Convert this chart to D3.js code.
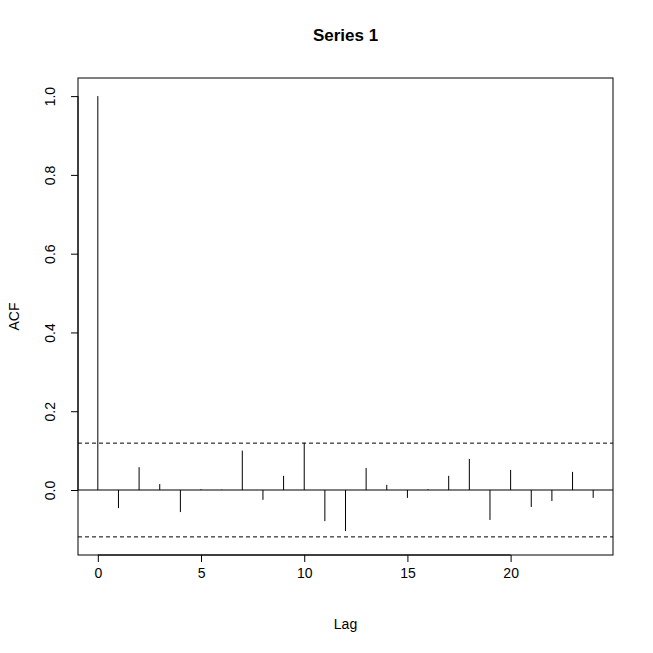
<!DOCTYPE html>
<html><head><meta charset="utf-8">
<script src="https://cdn.jsdelivr.net/npm/d3@7"></script>
<style>body{margin:0;background:#fff}text{font-family:"Liberation Sans",Arial,sans-serif}</style>
</head><body><svg id="c" width="653" height="653"></svg>
<script>
const lags = d3.range(0,25);
const acf = [1.0,-0.046,0.058,0.015,-0.056,0.002,0.001,0.10,-0.025,0.036,0.12,-0.079,-0.104,0.056,0.013,-0.02,0.002,0.036,0.079,-0.076,0.051,-0.043,-0.028,0.046,-0.02];
const ci = 0.119;
const xTicks = [0,5,10,15,20];
const yTicks = [0,0.2,0.4,0.6,0.8,1.0];
const L=78,R=613,T=78,B=555;
const svg=d3.select("#c");
const x=d3.scaleLinear().domain([-0.96,24.96]).range([L,R]);
const y=d3.scaleLinear().domain([-0.165,1.046]).range([B,T]);
svg.append("rect").attr("x",L).attr("y",T).attr("width",R-L).attr("height",B-T).attr("fill","none").attr("stroke","#000");
svg.append("line").attr("x1",L).attr("x2",R).attr("y1",y(0)).attr("y2",y(0)).attr("stroke","#000");
[ci,-ci].forEach(v=>svg.append("line").attr("x1",L).attr("x2",R).attr("y1",y(v)).attr("y2",y(v)).attr("stroke","#000").attr("stroke-dasharray","4,3"));
svg.selectAll(".bar").data(lags).enter().append("line").attr("x1",d=>x(d)).attr("x2",d=>x(d)).attr("y1",y(0)).attr("y2",d=>y(acf[d])).attr("stroke","#000");
const xa=svg.append("g").attr("transform",`translate(0,${B})`).call(d3.axisBottom(x).tickValues(xTicks).tickSize(7).tickPadding(6));
xa.select(".domain").attr("d",`M${x(0)},0H${x(20)}`);
xa.selectAll("text").attr("font-size",14);
const ya=svg.append("g").attr("transform",`translate(${L},0)`).call(d3.axisLeft(y).tickValues(yTicks).tickFormat(d3.format(".1f")).tickSize(7).tickPadding(6));
ya.select(".domain").attr("d",`M0,${y(0)}V${y(1)}`);
ya.selectAll("text").attr("font-size",14).attr("text-anchor","middle").attr("x",0).attr("y",0).attr("dy",0).attr("transform","translate(-23,0) rotate(-90)").attr("dominant-baseline","auto");
svg.append("text").attr("x",(L+R)/2).attr("y",41).attr("text-anchor","middle").attr("font-weight","bold").attr("font-size",17).text("Series 1");
svg.append("text").attr("x",(L+R)/2).attr("y",629).attr("text-anchor","middle").attr("font-size",14).text("Lag");
svg.append("text").attr("transform",`translate(19,${(T+B)/2}) rotate(-90)`).attr("text-anchor","middle").attr("font-size",14).text("ACF");
</script></body></html>
